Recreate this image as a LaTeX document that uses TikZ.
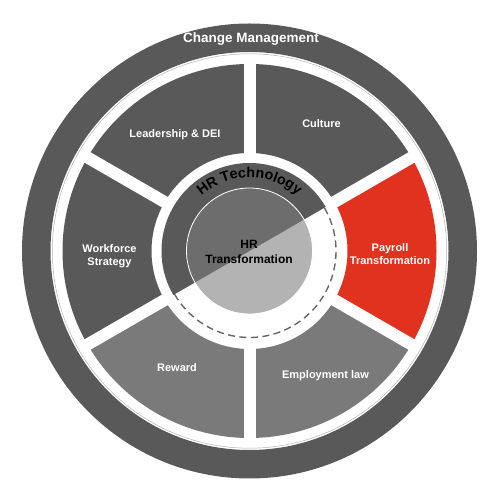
\documentclass[tikz,border=0pt]{standalone}
\usepackage{fontspec}
\setmainfont{Liberation Sans}
\usetikzlibrary{decorations.text}
\definecolor{ringgray}{HTML}{595959}
\definecolor{midgray}{HTML}{7A7A7A}
\definecolor{innerdark}{HTML}{6D6D6D}
\definecolor{innerlight}{HTML}{B3B3B3}
\definecolor{payred}{HTML}{E0321F}
\definecolor{dashgray}{HTML}{666666}
\begin{document}
\begin{tikzpicture}[x=1pt,y=1pt,
  lbl/.style={text=white,font=\fontsize{11}{13}\selectfont\bfseries,align=center,inner sep=0pt},
  centrelbl/.style={text=black,font=\fontsize{12}{15}\selectfont\bfseries,align=center,inner sep=0pt},
  titlelbl/.style={text=white,font=\fontsize{13.5}{15}\selectfont\bfseries,inner sep=0pt},
  gapline/.style={white,line width=12pt},
  dashring/.style={dashgray,line width=1.4pt,dash pattern=on 7pt off 4.5pt}]
\useasboundingbox (0,0) rectangle (500,500);
\begin{scope}[shift={(249.5,249)}]
  % outer ring
  \fill[ringgray,even odd rule] (0,0) circle (227.5) (0,0) circle (199);
  \draw[gray!60,line width=0.5pt] (0,0) circle (197.2);
  % segments
  \foreach \a/\b/\c in {330/390/payred,30/90/ringgray,90/150/ringgray,150/210/ringgray,210/270/midgray,270/330/midgray}
    \fill[\c] (\a:98) arc[start angle=\a,end angle=\b,radius=98] -- (\b:187) arc[start angle=\b,end angle=\a,radius=187] -- cycle;
  % gaps
  \foreach \a in {30,90,150,210,270,330}
    \draw[gapline] (0,0) -- (\a:192);
  % HR technology ring
  \fill[ringgray] (30:88) arc[start angle=30,end angle=210,radius=88] -- cycle;
  \draw[dashring] (210:86.5) arc[start angle=210,end angle=390,radius=86.5];
  % inner circle
  \fill[innerlight] (0,0) circle (63);
  \fill[innerdark] (30:63) arc[start angle=30,end angle=210,radius=63] -- cycle;
  \draw[white,line width=0.8pt] (0,0) circle (63);
  % curved label
  \path[decorate,decoration={text along path,text align=center,
      text={|\fontsize{14.3}{16}\selectfont\bfseries\color{black}|HR Technology}}]
    (150:73.5) arc[start angle=150,end angle=30,radius=73.5];
\end{scope}
\node[titlelbl] (chg) at (251,461) {Change Management};
\node[lbl] (lead) at (175,365) {Leadership \& DEI};
\node[lbl] (cult) at (321.5,376) {Culture};
\node[lbl] (work) at (109.5,243.5) {Workforce\\Strategy};
\node[lbl] (pay) at (390,245.5) {Payroll\\Transformation};
\node[lbl] (rew) at (177,132) {Reward};
\node[lbl] (emp) at (325.5,124) {Employment law};
\node[centrelbl] (hrt) at (249,248.5) {HR\\Transformation};
\end{tikzpicture}
\end{document}
